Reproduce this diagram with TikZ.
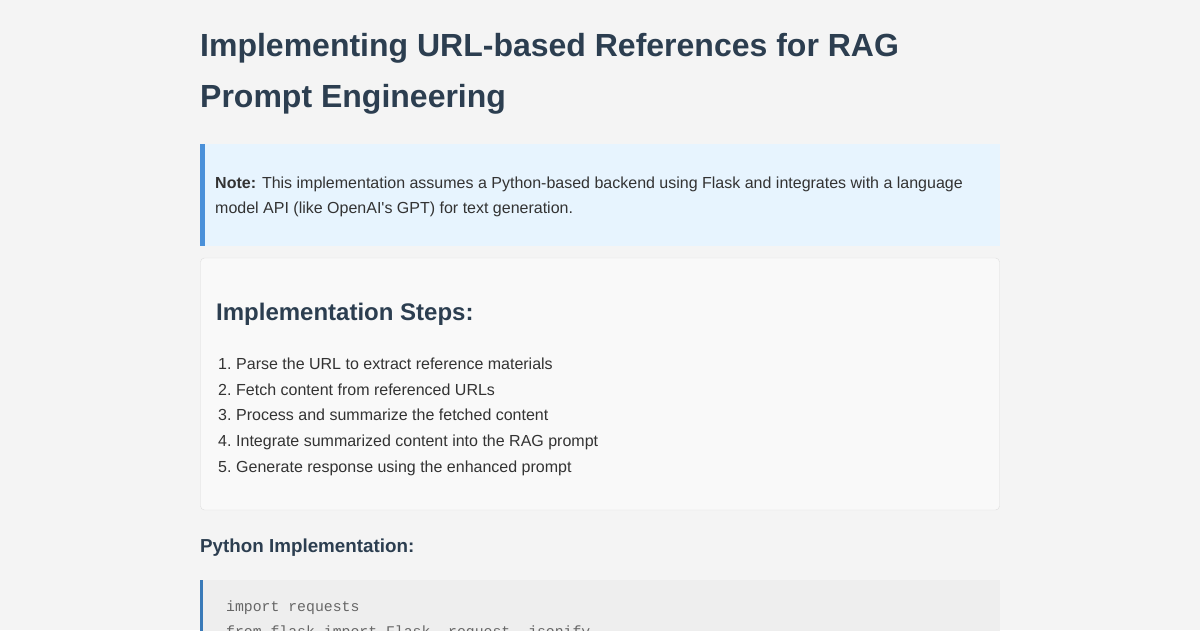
\documentclass[tikz,border=0pt]{standalone}
\usepackage{fontspec}
\setmainfont{Liberation Sans}
\setmonofont{Liberation Mono}
\newfontfamily\plainsans{Liberation Sans}[Ligatures=ResetAll]
\definecolor{pagebg}{HTML}{F4F4F4}
\definecolor{titlecol}{HTML}{2C3E50}
\definecolor{notebg}{HTML}{E7F4FE}
\definecolor{notebar}{HTML}{4A90D9}
\definecolor{stepsbg}{HTML}{F9F9F9}
\definecolor{stepsline}{HTML}{DDDDDD}
\definecolor{codebg}{HTML}{EEEEEE}
\definecolor{codebar}{HTML}{3A7AB8}
\definecolor{bodytext}{HTML}{333333}
\definecolor{codetext}{HTML}{666666}
\tikzset{
  txt/.style={anchor=base west,inner sep=0pt,text=bodytext,font=\fontsize{16}{19}\selectfont},
  head/.style={anchor=base west,inner sep=0pt,text=titlecol,font=\bfseries},
  code/.style={anchor=base west,inner sep=0pt,text=codetext,font=\ttfamily\fontsize{14.8}{17}\selectfont}
}
\begin{document}
\begin{tikzpicture}[x=1pt,y=-1pt]
\fill[pagebg] (0,0) rectangle (1200,630);
\useasboundingbox (0,0) rectangle (1200,630);
% title
\node[head,font=\bfseries\fontsize{32}{38}\selectfont] (title1) at (200,56) {Implementing URL-based References for RAG};
\node[head,font=\bfseries\fontsize{32}{38}\selectfont] (title2) at (200,107) {Prompt Engineering};
% note
\fill[notebg] (200,144) rectangle (1000,246);
\fill[notebar] (200,144) rectangle (205,246);
\node[txt] (note1) at (215,188) {\textbf{Note:} This implementation assumes a Python-based backend using Flask and integrates with a language};
\node[txt] (note2) at (215,213) {model API (like OpenAI{\plainsans '}s GPT) for text generation.};
% steps
\filldraw[fill=stepsbg,draw=stepsline,rounded corners=4pt] (200.5,258) rectangle (999.5,510);
\node[head,font=\bfseries\fontsize{24}{29}\selectfont] (steps) at (216,320) {Implementation Steps:};
\foreach \y/\n/\s in {369/1/Parse the URL to extract reference materials,
                      395/2/Fetch content from referenced URLs,
                      420/3/Process and summarize the fetched content,
                      446/4/Integrate summarized content into the RAG prompt,
                      472/5/Generate response using the enhanced prompt}{
  \node[txt] (num\n) at (218,\y) {\n.};
  \node[txt] (item\n) at (236,\y) {\s};
}
% code
\node[head,font=\bfseries\fontsize{18.8}{23}\selectfont] (pyhead) at (200,552) {Python Implementation:};
\fill[codebg] (200,580) rectangle (1000,640);
\fill[codebar] (200,580) rectangle (203,640);
\begin{scope}
\clip (0,0) rectangle (1200,630);
\node[code] (code1) at (226,611) {import requests};
\node[code] (code2) at (226,636) {from flask import Flask, request, jsonify};
\end{scope}
\end{tikzpicture}
\end{document}
